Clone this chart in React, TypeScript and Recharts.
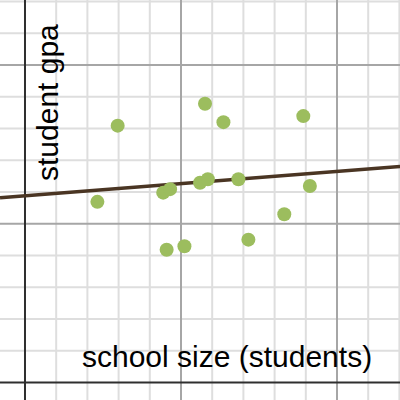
import React from "react";
import { ComposedChart, Scatter, XAxis, YAxis, ReferenceLine } from "recharts";

// school size (grid units) vs student gpa (grid units)
const schoolSize = [2.97, 2.32, 4.43, 4.65, 5.61, 5.86, 6.84, 4.54, 5.11, 7.16, 5.77, 6.36, 9.13, 8.31, 8.92];
const studentGpa = [8.09, 5.69, 5.98, 6.09, 6.29, 6.40, 6.40, 4.18, 4.29, 4.50, 8.78, 8.20, 6.19, 5.30, 8.39];

// trend line end points
const fitX = [-0.8, 12.02];
const fitY = [5.82, 6.8];

const minorTicks = [1, 2, 3, 4, 6, 7, 8, 9, 11, 12];
const majorTicks = [5, 10];

const points = schoolSize.map((x, i) => ({ x, y: studentGpa[i] }));
const fitLine = fitX.map((x, i) => ({ x, y: fitY[i] }));

const NoDot = () => <g />;

const font = "Liberation Sans, Arial, sans-serif";

export default function App() {
  return (
    <div style={{ position: "fixed", left: 0, top: 0, width: 400, height: 400, background: "#fff" }}>
      <ComposedChart width={400} height={400} margin={{ top: 0, right: 0, bottom: 0, left: 0 }}>
        <XAxis type="number" dataKey="x" domain={[-0.801, 12.019]} hide allowDataOverflow />
        <YAxis type="number" dataKey="y" domain={[-0.551, 12.047]} hide allowDataOverflow />
        {minorTicks.map((t) => (
          <ReferenceLine key={"vx" + t} x={t} stroke="#dedede" strokeWidth={2} />
        ))}
        {minorTicks.map((t) => (
          <ReferenceLine key={"hy" + t} y={t} stroke="#dedede" strokeWidth={2} />
        ))}
        {majorTicks.map((t) => (
          <ReferenceLine key={"mx" + t} x={t} stroke="#a6a6a6" strokeWidth={2} />
        ))}
        {majorTicks.map((t) => (
          <ReferenceLine key={"my" + t} y={t} stroke="#a6a6a6" strokeWidth={2} />
        ))}
        <ReferenceLine x={0} stroke="#2f2f2f" strokeWidth={2} />
        <ReferenceLine y={0} stroke="#2f2f2f" strokeWidth={2} />
        <Scatter
          data={fitLine}
          line={{ stroke: "#4a3523", strokeWidth: 3.5 }}
          shape={<NoDot />}
          isAnimationActive={false}
        />
        <Scatter
          data={points}
          fill="#9cbd5e"
          shape={(p: any) => <circle cx={p.cx} cy={p.cy} r={7} fill="#9cbd5e" />}
          isAnimationActive={false}
        />
      </ComposedChart>
      {/* axis titles sit on top of the grid */}
      <svg
        width={400}
        height={400}
        style={{ position: "absolute", left: 0, top: 0, pointerEvents: "none" }}
      >
        <text x={82} y={367} fontFamily={font} fontSize={30} fill="#000">
          school size (students)
        </text>
        <text x={58} y={181} transform="rotate(-90 58 181)" fontFamily={font} fontSize={30} fill="#000">
          student gpa
        </text>
      </svg>
    </div>
  );
}
